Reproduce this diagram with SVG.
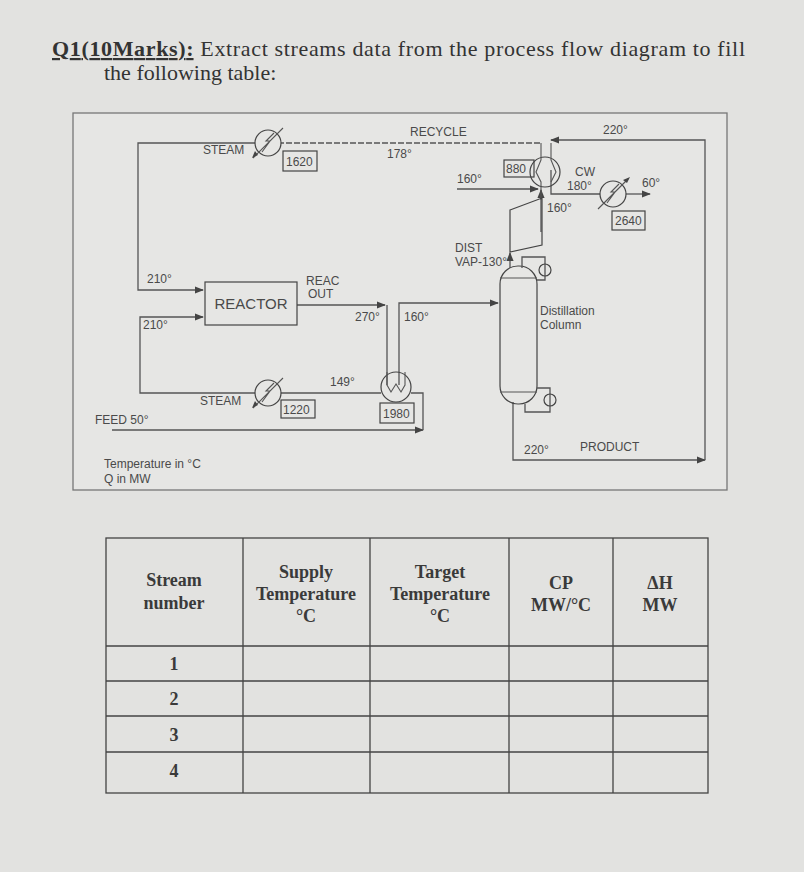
<svg xmlns="http://www.w3.org/2000/svg" width="804" height="872" viewBox="0 0 804 872">
<defs>
<style>
.l{fill:none;stroke:#555;stroke-width:1.3}
.b{fill:none;stroke:#444;stroke-width:1.2}
.t{font-family:"Liberation Sans",Arial,sans-serif;font-size:12px;fill:#4a4a4a}
.s{font-family:"Liberation Serif","Times New Roman",serif;fill:#333}
.h{font-family:"Liberation Serif","Times New Roman",serif;font-size:18px;font-weight:bold;fill:#3a3a3a;text-anchor:middle}
.g{stroke:#555;stroke-width:1.1}
</style>
<marker id="a" viewBox="0 0 10 10" refX="9" refY="5" markerWidth="7" markerHeight="7" orient="auto-start-reverse"><path d="M0,1 L10,5 L0,9 z" fill="#444"/></marker>
</defs>
<rect width="804" height="872" fill="#e2e2e0"/>
<text x="52" y="56" class="s" font-size="22" textLength="693" lengthAdjust="spacing"><tspan font-weight="bold" text-decoration="underline">Q1(10Marks):</tspan> Extract streams data from the process flow diagram to fill</text>
<text x="104" y="80" class="s" font-size="22">the following table:</text>
<rect x="73" y="113" width="654" height="377" fill="#e6e6e4" stroke="#777" stroke-width="1.3"/>
<g id="connectors">
<path class="l" d="M540,143 H281" stroke-dasharray="6,2"/>
<path class="l" d="M255,143 H138 V290 H203" marker-end="url(#a)"/>
<path class="l" d="M255,393 H140 V317 H203" marker-end="url(#a)"/>
<path class="l" d="M112,430 H423" marker-end="url(#a)"/>
<path class="l" d="M423,430 V393 H411"/>
<path class="l" d="M381,393 H281"/>
<path class="l" d="M297,305 H385" marker-end="url(#a)"/>
<path class="l" d="M387,305 V385 M399,385 V303 H498" marker-end="url(#a)"/>
<path class="l" d="M510,268 V253" marker-end="url(#a)"/>
<path class="l" d="M541,232 V190" marker-end="url(#a)"/>
<path class="l" d="M457,189 H538" marker-end="url(#a)"/>
<path class="l" d="M513,402 V460 H705" marker-end="url(#a)"/>
<path class="l" d="M705,460 V140 H551" marker-end="url(#a)"/>
<path class="l" d="M551,170 V194 H600"/>
<path class="l" d="M626,194 H650" marker-end="url(#a)"/>
</g>
<g id="heater1"><circle cx="268" cy="143" r="13" class="b" fill="#e6e6e4"/><path class="g" fill="none" d="M262,152 L270,141 L266,141 L274,133 M253,158 L283,128"/><path d="M252,158 l3,-7 l3,4z" fill="#444"/></g>
<g id="heater2"><circle cx="268" cy="393" r="13" class="b" fill="#e6e6e4"/><path class="g" fill="none" d="M262,402 L270,391 L266,391 L274,383 M253,408 L283,378"/><path d="M252,408 l3,-7 l3,4z" fill="#444"/></g>
<g id="exch1980"><circle cx="396" cy="387" r="15" class="b" fill="#e6e6e4"/><path class="g" fill="none" d="M387,372 V385 L391,392 L396,384 L401,392 L405,385 V372"/></g>
<g id="exch880"><circle cx="545" cy="172" r="15" class="b" fill="#e6e6e4"/><path class="g" fill="none" d="M541,143 V160 L536,172 L541,182 V200 M551,143 V160 L556,172 L551,182"/></g>
<g id="cooler"><circle cx="613" cy="194" r="13" class="b" fill="#e6e6e4"/><path class="g" fill="none" d="M607,203 L615,192 L611,192 L619,184 M598,209 L628,179"/><path d="M630,177 l-7,3 l4,3z" fill="#444"/></g>
<g id="reactor"><rect x="205" y="282" width="92" height="43" class="b" fill="#e6e6e4"/><text x="251" y="309" class="t" style="font-size:15px" text-anchor="middle">REACTOR</text></g>
<g id="compressor"><path class="b" d="M510,210 L542,198 V245 L510,252 Z" fill="#e6e6e4"/></g>
<g id="column"><rect x="500" y="266" width="37" height="138" rx="18" class="b" fill="#e6e6e4"/><path class="g" d="M500,278 H537 M500,392 H537"/><path class="l" d="M522,268 V257 H545 V280 H537"/><circle cx="545" cy="270" r="6" class="b" fill="#e6e6e4"/><path class="l" d="M525,404 V412 H550 V388 H537"/><circle cx="550" cy="400" r="6" class="b" fill="#e6e6e4"/></g>
<g id="labels">
<text x="410" y="136" class="t">RECYCLE</text>
<text x="603" y="134" class="t">220°</text>
<text x="203" y="154" class="t">STEAM</text>
<rect x="283" y="151" width="34" height="20" class="b"/><text x="286" y="166" class="t">1620</text>
<text x="387" y="158" class="t">178°</text>
<text x="457" y="183" class="t">160°</text>
<rect x="504" y="160" width="30" height="17" class="b"/><text x="506" y="173" class="t">880</text>
<text x="575" y="176" class="t">CW</text>
<text x="567" y="190" class="t">180°</text>
<text x="642" y="187" class="t">60°</text>
<text x="547" y="212" class="t">160°</text>
<rect x="612" y="211" width="33" height="19" class="b"/><text x="615" y="225" class="t">2640</text>
<text x="455" y="252" class="t">DIST</text>
<text x="455" y="266" class="t">VAP-130°</text>
<text x="306" y="285" class="t">REAC</text>
<text x="308" y="298" class="t">OUT</text>
<text x="147" y="283" class="t">210°</text>
<text x="143" y="329" class="t">210°</text>
<text x="355" y="321" class="t">270°</text>
<text x="404" y="321" class="t">160°</text>
<text x="540" y="315" class="t">Distillation</text>
<text x="540" y="329" class="t">Column</text>
<text x="330" y="386" class="t">149°</text>
<text x="200" y="405" class="t">STEAM</text>
<rect x="281" y="400" width="34" height="18" class="b"/><text x="283" y="414" class="t">1220</text>
<rect x="380" y="403" width="34" height="20" class="b"/><text x="383" y="418" class="t">1980</text>
<text x="95" y="424" class="t">FEED 50°</text>
<text x="524" y="454" class="t">220°</text>
<text x="580" y="451" class="t">PRODUCT</text>
<text x="104" y="468" class="t">Temperature in °C</text>
<text x="104" y="483" class="t">Q in MW</text>
</g>
<g id="table" fill="none" stroke="#444" stroke-width="1.3">
<rect x="106" y="538" width="602" height="255"/>
<path d="M243,538 V793 M370,538 V793 M509,538 V793 M613,538 V793 M106,646 H708 M106,681 H708 M106,716 H708 M106,752 H708"/>
</g>
<g id="tabletext">
<text x="174" y="586" class="h">Stream</text><text x="174" y="609" class="h">number</text>
<text x="306" y="578" class="h">Supply</text><text x="306" y="600" class="h">Temperature</text><text x="306" y="622" class="h">°C</text>
<text x="440" y="578" class="h">Target</text><text x="440" y="600" class="h">Temperature</text><text x="440" y="622" class="h">°C</text>
<text x="561" y="589" class="h">CP</text><text x="561" y="611" class="h">MW/°C</text>
<text x="660" y="589" class="h">ΔH</text><text x="660" y="611" class="h">MW</text>
<text x="174" y="670" class="h">1</text><text x="174" y="705" class="h">2</text><text x="174" y="741" class="h">3</text><text x="174" y="777" class="h">4</text>
</g>
</svg>
